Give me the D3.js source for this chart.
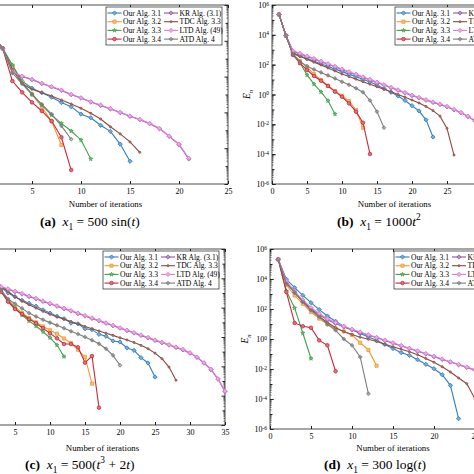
<!DOCTYPE html>
<html>
<head>
<meta charset="utf-8">
<script src="https://cdn.jsdelivr.net/npm/d3@7"></script>
<style>
  body { margin: 0; background: #fff; }
  svg { display: block; font-family: "Liberation Serif", "Times New Roman", serif; }
</style>
</head>
<body>
<div id="chart"></div>
<script>
const seriesNames = ["Our Alg. 3.1", "Our Alg. 3.2", "Our Alg. 3.3", "Our Alg. 3.4",
                     "KR Alg. (3.1)", "TDC Alg. 3.3", "LTD Alg. (49)", "ATD Alg. 4"];

// log10(E_n), one value per iteration (iteration = index + 1)
// panel (a)
const a31  = [4.3, 3.58, 2.6, 1.75, 1.35, 1.1, 0.85, 0.55, 0.32, -0.1, -0.3, -0.72, -1.06, -1.77, -2.73];
const a32  = [4.3, 3.58, 2.55, 1.7, 1.0, 0.3, -0.5, -1.82];
const a33  = [4.3, 3.58, 2.65, 1.65, 1.03, 0.41, -0.15, -0.61, -1.04, -1.54, -2.6];
const a34  = [4.3, 3.58, 1.75, 1.12, 0.56, 0.08, -0.48, -1.39, -3.22];
const aKR  = [4.3, 3.58, 2.23, 2.0, 1.83, 1.61, 1.42, 1.23, 0.99, 0.8, 0.58, 0.39, 0.19, -0.01, -0.22, -0.41, -0.63, -0.91, -1.34, -1.8, -2.6];
const aTDC = [4.3, 3.58, 2.4, 1.6, 1.3, 1.1, 0.92, 0.69, 0.47, 0.23, -0.05, -0.37, -0.8, -1.2, -1.65, -2.23];
const aLTD = [4.3, 3.58, 2.25, 2.03, 1.85, 1.63, 1.44, 1.25, 1.01, 0.82, 0.6, 0.41, 0.21, 0.01, -0.2, -0.39, -0.61, -0.89, -1.32, -1.77, -2.56];
const aATD = [4.3, 3.58, 2.2, 1.6, 1.0, 0.45, -0.1, -0.75, -1.5];

// panel (b)
const b31  = [5.37, 3.94, 2.8, 2.6, 2.4, 2.25, 2.05, 1.9, 1.7, 1.55, 1.35, 1.2, 1.0, 0.85, 0.62, 0.4, 0.15, -0.1, -0.4, -0.75, -1.1, -1.7, -2.85];
const b32  = [5.37, 3.94, 2.7, 2.25, 1.82, 1.37, 0.97, 0.59, 0.23, -0.08, -0.44, -1.04, -2.23];
const b33  = [5.37, 3.94, 2.7, 2.13, 1.31, 0.7, 0.17, -0.42, -1.31];
const b34  = [5.37, 3.94, 2.65, 2.1, 1.64, 1.24, 0.92, 0.57, 0.19, -0.15, -0.59, -1.15, -1.89, -3.99];
const bKR  = [5.37, 3.94, 2.9, 2.73, 2.55, 2.38, 2.2, 2.03, 1.85, 1.68, 1.5, 1.33, 1.15, 0.98, 0.8, 0.63, 0.45, 0.28, 0.1, -0.07, -0.23, -0.38, -0.53, -0.67, -0.83, -1.03, -1.23, -1.48, -1.78, -2.13, -2.63, -3.33];
const bTDC = [5.37, 3.94, 2.75, 2.55, 2.36, 2.17, 1.98, 1.78, 1.58, 1.37, 1.2, 1.03, 0.86, 0.69, 0.52, 0.35, 0.18, 0.0, -0.18, -0.37, -0.57, -0.8, -1.08, -1.45, -2.27, -4.06];
const bLTD = [5.37, 3.94, 2.93, 2.76, 2.58, 2.41, 2.23, 2.06, 1.88, 1.71, 1.53, 1.36, 1.18, 1.01, 0.83, 0.66, 0.48, 0.31, 0.13, -0.04, -0.2, -0.35, -0.5, -0.64, -0.8, -1.0, -1.2, -1.45, -1.75, -2.1, -2.6, -3.3];
const bATD = [5.37, 3.94, 2.7, 2.2, 1.9, 1.68, 1.48, 1.28, 1.08, 0.85, 0.65, 0.42, 0.15, -0.4, -1.15, -2.23];

// panel (c)
const c31  = [5.3, 4.2, 3.4, 3.0, 2.75, 2.5, 2.3, 2.1, 1.85, 1.63, 1.41, 1.25, 0.95, 0.9, 0.56, 0.5, 0.18, 0.05, -0.27, -0.34, -0.75, -0.91, -1.41, -1.77, -2.73];
const c32  = [5.3, 4.2, 3.2, 2.55, 2.05, 1.65, 1.3, 1.0, 0.72, 0.46, 0.22, -0.1, -0.41, -0.87, -1.36, -3.18];
const c33  = [5.3, 4.2, 3.2, 2.5, 1.95, 1.5, 1.1, 0.75, 0.36, -0.05, -0.55, -1.34];
const c34  = [5.3, 4.2, 3.09, 2.41, 1.91, 1.57, 1.23, 0.94, 0.6, 0.25, -0.09, -0.48, -0.48, -0.7, -1.75, -1.3, -4.82];
const cKR  = [5.3, 4.2, 3.4, 3.26, 3.09, 2.93, 2.76, 2.6, 2.43, 2.26, 2.1, 1.93, 1.77, 1.6, 1.43, 1.27, 1.1, 0.94, 0.77, 0.6, 0.44, 0.27, 0.11, -0.06, -0.23, -0.39, -0.55, -0.71, -0.88, -1.1, -1.39, -1.78, -2.23, -2.87, -3.71];
const cTDC = [5.3, 4.2, 3.45, 3.1, 2.75, 2.45, 2.2, 1.97, 1.75, 1.55, 1.38, 1.22, 1.06, 0.9, 0.72, 0.56, 0.41, 0.26, 0.11, -0.05, -0.2, -0.37, -0.57, -0.8, -1.1, -1.48, -2.05, -2.95];
const cLTD = [5.3, 4.2, 3.42, 3.29, 3.12, 2.96, 2.79, 2.63, 2.46, 2.29, 2.13, 1.96, 1.8, 1.63, 1.46, 1.3, 1.13, 0.97, 0.8, 0.63, 0.47, 0.3, 0.14, -0.03, -0.2, -0.36, -0.52, -0.68, -0.85, -1.07, -1.36, -1.75, -2.2, -2.84, -3.68];
const cATD = [5.3, 4.2, 3.2, 2.6, 2.27, 1.95, 1.63, 1.4, 1.18, 0.98, 0.8, 0.6, 0.39, 0.2, 0.0, -0.22, -0.46, -0.8, -1.25, -1.93];

// panel (d)
const d31  = [5.31, 3.98, 3.42, 2.91, 2.42, 1.96, 1.53, 1.18, 0.84, 0.62, 0.36, 0.13, -0.09, -0.36, -0.64, -0.91, -1.09, -1.38, -1.69, -1.98, -2.38, -3.09, -5.31];
const d32  = [5.31, 3.6, 2.9, 2.35, 1.8, 1.36, 0.98, 0.7, 0.5, 0.27, -0.25, -0.73, -1.78];
const d33  = [5.31, 3.2, 2.07, 0.4, -1.3];
const d34  = [5.31, 3.13, 1.07, 0.85, 0.75, -0.09, -0.42, -2.15];
const dKR  = [5.31, 3.8, 3.1, 2.5, 2.0, 1.62, 1.28, 1.04, 0.8, 0.6, 0.43, 0.25, 0.08, -0.1, -0.28, -0.46, -0.64, -0.82, -1.0, -1.18, -1.36, -1.54, -1.72, -1.9, -2.08, -2.28, -2.53, -2.85];
const dTDC = [5.31, 3.75, 3.1, 2.5, 1.95, 1.5, 1.1, 0.75, 0.5, 0.3, 0.12, -0.02, -0.17, -0.35, -0.52, -0.68, -0.85, -1.05, -1.3, -1.55, -1.85, -2.2, -2.6, -2.98, -4.0];
const dLTD = [5.31, 3.85, 3.2, 2.6, 2.1, 1.7, 1.35, 1.1, 0.85, 0.65, 0.47, 0.29, 0.11, -0.07, -0.25, -0.43, -0.61, -0.79, -0.97, -1.15, -1.33, -1.51, -1.69, -1.87, -2.05, -2.25, -2.5, -2.8];
const dATD = [5.31, 3.69, 3.13, 2.47, 1.91, 1.47, 0.98, 0.58, 0.0, -0.42, -1.2, -3.65];

const captions = [
  [["(a)", "b"], ["  ", ""], ["x", "i"], ["1", "sub"], [" = 500 sin(", ""], ["t", "i"], [")", ""]],
  [["(b)", "b"], ["  ", ""], ["x", "i"], ["1", "sub"], [" = 1000", ""], ["t", "i"], ["2", "sup"]],
  [["(c)", "b"], ["  ", ""], ["x", "i"], ["1", "sub"], [" = 500(", ""], ["t", "i"], ["3", "sup"], [" + 2", ""], ["t", "i"], [")", ""]],
  [["(d)", "b"], ["  ", ""], ["x", "i"], ["1", "sub"], [" = 300 log(", ""], ["t", "i"], [")", ""]]
];

const colors  = ["#2f7fc1", "#f39a2e", "#3fa34d", "#c8283a", "#8f57a8", "#8b4a3c", "#e07bd6", "#7b7b7b"];
const markers = ["diamond", "square", "star", "circle", "diamond", "dot", "diamond", "plus"];

const width = 474;
const height = 474;

const svg = d3.select("#chart")
  .append("svg")
  .attr("width", width)
  .attr("height", height);

const shapes = {
  diamond: { type: d3.symbolSquare, size: 9,  rot: 45 },
  square:  { type: d3.symbolSquare, size: 10, rot: 0 },
  star:    { type: d3.symbolStar,   size: 5,  rot: 0 },
  circle:  { type: d3.symbolCircle, size: 10, rot: 0 },
  dot:     { type: d3.symbolCircle, size: 3.5, rot: 0 },
  plus:    { type: d3.symbolCross,  size: 6,  rot: 0 }
};

function richText(sel, segs, size) {
  let shift = 0;
  segs.forEach(([txt, st]) => {
    const tags = st.split(" ");
    const ts = sel.append("tspan").text(txt);
    let target = 0;
    if (tags.includes("sub")) { target = size * 0.3; ts.attr("font-size", size * 0.7); }
    if (tags.includes("sup")) { target = -size * 0.42; ts.attr("font-size", size * 0.7); }
    if (tags.includes("b")) ts.attr("font-weight", "bold");
    if (tags.includes("i")) ts.attr("font-style", "italic");
    if (target !== shift) { ts.attr("dy", target - shift); shift = target; }
  });
}

function drawMarker(g, kind, color, cx, cy) {
  const s = shapes[kind];
  g.append("path")
    .attr("d", d3.symbol().type(s.type).size(s.size)())
    .attr("transform", `translate(${cx},${cy}) rotate(${s.rot})`)
    .attr("fill", kind === "plus" ? "none" : d3.interpolateRgb(color, "#fff")(0.35))
    .attr("stroke", color)
    .attr("stroke-width", 0.8);
}

function drawPanel(p) {
  const g = svg.append("g");
  const right = p.left + p.w;
  const bottom = p.top + p.h;

  const x = d3.scaleLinear().domain([0, p.xmax]).range([p.left, right]);
  const y = d3.scaleLog().domain([p.ymin, p.ymax]).range([bottom, p.top]);

  const e0 = Math.round(Math.log10(p.ymin));
  const e1 = Math.round(Math.log10(p.ymax));
  const majors = d3.range(e0, e1 + 1, 2).map(k => Math.pow(10, k));
  const decades = d3.range(e0 + 1, e1, 2).map(k => Math.pow(10, k));
  const minors = d3.range(e0, e1).flatMap(k => d3.range(2, 10).map(m => m * Math.pow(10, k)));
  // the panels run past the picture's edges: only label ticks that land inside it
  const xticks = d3.range(0, p.xmax + 1, 5);
  const xlabelled = xticks.filter(v => x(v) > 4 && x(v) < width + 2);

  // x axes
  g.append("g")
    .attr("transform", `translate(0,${bottom})`)
    .call(d3.axisBottom(x).tickValues(xlabelled).tickSize(-3).tickPadding(4))
    .call(a => a.select(".domain").remove())
    .attr("font-size", 8).attr("font-family", null);
  [[d3.axisBottom, bottom], [d3.axisTop, p.top]].forEach(([ax, pos]) => {
    g.append("g")
      .attr("transform", `translate(0,${pos})`)
      .call(ax(x).tickValues(xticks).tickSize(-3).tickFormat(""))
      .call(a => a.select(".domain").remove());
  });

  // y axes
  if (p.yLabels) {
    g.append("g")
      .attr("transform", `translate(${p.left},0)`)
      .call(d3.axisLeft(y).tickValues(majors).tickSize(-3.5).tickPadding(3))
      .call(a => a.select(".domain").remove())
      .attr("font-size", 8).attr("font-family", null)
      .call(a => a.selectAll(".tick text").each(function (d) {
        const t = d3.select(this);
        t.text("10");
        t.append("tspan").attr("dy", "-0.45em").attr("font-size", 5.5).text(Math.round(Math.log10(d)));
      }));
    const yl = g.append("text")
      .attr("transform", `translate(${p.left - 22},${(p.top + bottom) / 2}) rotate(-90)`)
      .attr("text-anchor", "middle").attr("font-size", 9.5);
    richText(yl, [["E", "i"], ["n", "i sub"]], 9.5);
  }
  [[d3.axisLeft, p.left], [d3.axisRight, right]].forEach(([ax, pos]) => {
    g.append("g").attr("transform", `translate(${pos},0)`)
      .call(ax(y).tickValues(majors).tickSize(-3.5).tickFormat(""))
      .call(a => a.select(".domain").remove());
    g.append("g").attr("transform", `translate(${pos},0)`)
      .call(ax(y).tickValues(decades).tickSize(-2.5).tickFormat(""))
      .call(a => a.select(".domain").remove());
    g.append("g").attr("transform", `translate(${pos},0)`)
      .call(ax(y).tickValues(minors).tickSize(-1.6).tickFormat(""))
      .call(a => a.select(".domain").remove())
      .selectAll("line").attr("stroke-width", 0.6);
  });
  g.selectAll(".tick line").attr("stroke", "#222");

  g.append("rect")
    .attr("x", p.left).attr("y", p.top)
    .attr("width", p.w).attr("height", p.h)
    .attr("fill", "none").attr("stroke", "#222").attr("stroke-width", 0.8);

  // series
  const line = d3.line().x((d, i) => x(i + 1)).y(d => y(Math.pow(10, d)));
  p.series.forEach((vals, si) => {
    const sg = g.append("g");
    sg.append("path")
      .attr("d", line(vals))
      .attr("fill", "none")
      .attr("stroke", colors[si])
      .attr("stroke-width", 1.1);
    vals.forEach((v, i) => drawMarker(sg, markers[si], colors[si], x(i + 1), y(Math.pow(10, v))));
  });

  // labels
  g.append("text")
    .attr("x", (p.left + right) / 2).attr("y", p.xlabY)
    .attr("text-anchor", "middle").attr("font-size", 8.8)
    .text("Number of iterations");

  const cap = g.append("text")
    .attr("x", p.capX).attr("y", p.capY)
    .attr("font-size", 13.5).style("white-space", "pre");
  richText(cap, p.caption, 13.5);

  // legend
  const lx = right - 122, ly = p.top + 2;
  const lg = g.append("g");
  lg.append("rect").attr("x", lx).attr("y", ly).attr("width", 116).attr("height", 38)
    .attr("fill", "#fff").attr("stroke", "#222").attr("stroke-width", 0.7);
  seriesNames.forEach((name, si) => {
    const col = Math.floor(si / 4), row = si % 4;
    const x0 = lx + 1.5 + col * 56.5;
    const yy = ly + 6 + row * 8.7;
    lg.append("line").attr("x1", x0).attr("x2", x0 + 14).attr("y1", yy).attr("y2", yy)
      .attr("stroke", colors[si]).attr("stroke-width", 1.1);
    drawMarker(lg, markers[si], colors[si], x0 + 7, yy);
    lg.append("text").attr("x", x0 + 15.5).attr("y", yy + 2.7)
      .attr("font-size", 7.6).text(name);
  });
}

const panels = [
  { left: -17, top: 5,   w: 245, h: 179, xmax: 25, ymin: 1e-4, ymax: 1e6, yLabels: false, capX: 40,  capY: 226, xlabY: 207, caption: captions[0], series: [a31, a32, a33, a34, aKR, aTDC, aLTD, aATD] },
  { left: 272, top: 5,   w: 245, h: 179, xmax: 35, ymin: 1e-6, ymax: 1e6, yLabels: true,  capX: 337, capY: 226, xlabY: 207, caption: captions[1], series: [b31, b32, b33, b34, bKR, bTDC, bLTD, bATD] },
  { left: -20, top: 249, w: 245, h: 176, xmax: 35, ymin: 1e-6, ymax: 1e6, yLabels: false, capX: 25,  capY: 469, xlabY: 451, caption: captions[2], series: [c31, c32, c33, c34, cKR, cTDC, cLTD, cATD] },
  { left: 270, top: 249, w: 246, h: 180, xmax: 30, ymin: 1e-6, ymax: 1e6, yLabels: true,  capX: 324, capY: 469, xlabY: 451, caption: captions[3], series: [d31, d32, d33, d34, dKR, dTDC, dLTD, dATD] }
];

panels.forEach(drawPanel);
</script>
</body>
</html>
